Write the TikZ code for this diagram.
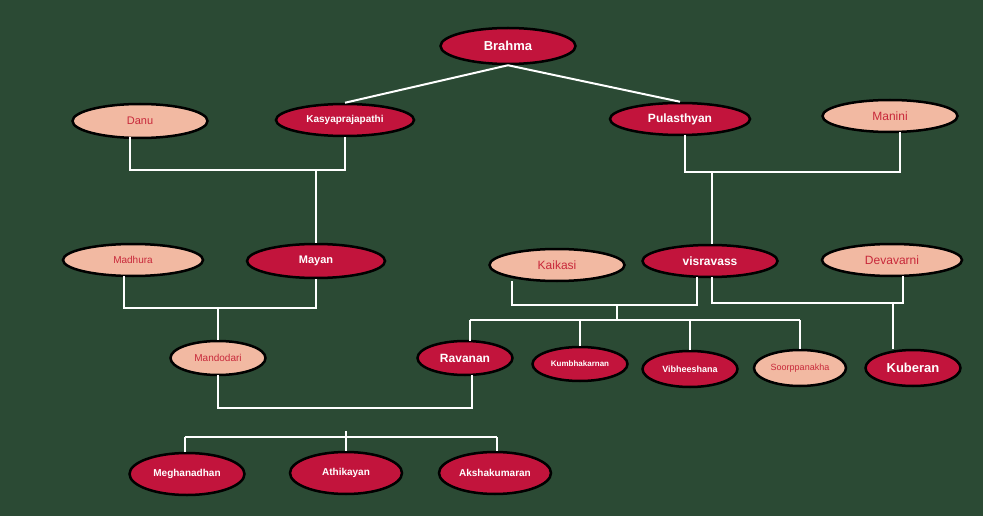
\documentclass[tikz,border=0pt]{standalone}
\usepackage{fontspec}
\setmainfont{Liberation Sans}
\usetikzlibrary{shapes.geometric}
\definecolor{bg}{HTML}{2B4A34}
\definecolor{dred}{HTML}{C2143C}
\definecolor{peach}{HTML}{F2B9A2}
\definecolor{tred}{HTML}{C8283A}
\begin{document}
\begin{tikzpicture}[x=1pt,y=-1pt,
  dk/.style={ellipse,draw=black,line width=2.5pt,fill=dred,text=white,font=\bfseries\fontsize{#1}{#1}\selectfont,inner sep=0pt},
  pk/.style={ellipse,draw=black,line width=2.5pt,fill=peach,text=tred,font=\fontsize{#1}{#1}\selectfont,inner sep=0pt},
  ln/.style={draw=white,line width=2pt}]
\fill[bg] (0,0) rectangle (983,516);
\useasboundingbox (0,0) rectangle (983,516);
\node[dk=13,minimum width=135,minimum height=36] (brahma) at (508,46) {Brahma};
\node[pk=11,minimum width=135,minimum height=34] (danu) at (140,121) {Danu};
\node[dk=10,minimum width=138,minimum height=32] (kasya) at (345,120) {Kasyaprajapathi};
\node[dk=12,minimum width=140,minimum height=32] (pula) at (680,119) {Pulasthyan};
\node[pk=12,minimum width=135,minimum height=32] (manini) at (890,116) {Manini};
\node[pk=10,minimum width=140,minimum height=32] (madhura) at (133,260) {Madhura};
\node[dk=11,minimum width=138,minimum height=34] (mayan) at (316,261) {Mayan};
\node[pk=12,minimum width=135,minimum height=32] (kaikasi) at (557,265) {Kaikasi};
\node[dk=12,minimum width=135,minimum height=32] (visra) at (710,261) {visravass};
\node[pk=12,minimum width=140,minimum height=32] (deva) at (892,260) {Devavarni};
\node[pk=10,minimum width=95,minimum height=34] (mando) at (218,358) {Mandodari};
\node[dk=12,minimum width=95,minimum height=34] (ravana) at (465,358) {Ravanan};
\node[dk=8,minimum width=95,minimum height=34] (kumbha) at (580,364) {Kumbhakarnan};
\node[dk=9,minimum width=95,minimum height=36] (vibhee) at (690,369) {Vibheeshana};
\node[pk=9,minimum width=92,minimum height=36] (soorp) at (800,368) {Soorppanakha};
\node[dk=13,minimum width=95,minimum height=36] (kuber) at (913,368) {Kuberan};
\node[dk=10,minimum width=115,minimum height=42] (megha) at (187,474) {Meghanadhan};
\node[dk=10,minimum width=112,minimum height=42] (athi) at (346,473) {Athikayan};
\node[dk=10,minimum width=112,minimum height=42] (aksha) at (495,473) {Akshakumaran};
% lines
\draw[ln] (brahma.south) -- (kasya.north);
\draw[ln] (brahma.south) -- (pula.north);
\coordinate (j1) at (316,170);
\draw[ln] (130,137) -- (130,170) -- (345,170) -- (kasya.south);
\draw[ln] (j1) -- (mayan.north);
\coordinate (j2) at (712,172);
\draw[ln] (685,135) -- (685,172) -- (900,172) -- (900,132);
\draw[ln] (j2) -- (j2 |- visra.north);
\coordinate (j3) at (218,308);
\draw[ln] (124,276) -- (124,308) -- (316,308) -- (mayan.south);
\draw[ln] (j3) -- (mando.north);
\draw[ln] (512,281) -- (512,305) -- (697,305) -- (697,277);
\draw[ln] (617,305) -- (617,320);
\draw[ln] (470,320) -- (800,320);
\draw[ln] (470,320) -- (470,341);
\draw[ln] (580,320) -- (kumbha.north);
\draw[ln] (690,320) -- (vibhee.north);
\draw[ln] (800,320) -- (soorp.north);
\draw[ln] (712,277) -- (712,303) -- (903,303) -- (903,276);
\coordinate (j4) at (893,303);
\draw[ln] (j4) -- (j4 |- kuber.north);
\draw[ln] (218,375) -- (218,408) -- (472,408) -- (472,375);
\draw[ln] (185,437) -- (497,437);
\draw[ln] (346,437) -- (346,431);
\coordinate (c1) at (185,437);
\coordinate (c3) at (497,437);
\draw[ln] (c1) -- (c1 |- megha.north);
\draw[ln] (346,437) -- (athi.north);
\draw[ln] (c3) -- (c3 |- aksha.north);
\end{tikzpicture}
\end{document}
